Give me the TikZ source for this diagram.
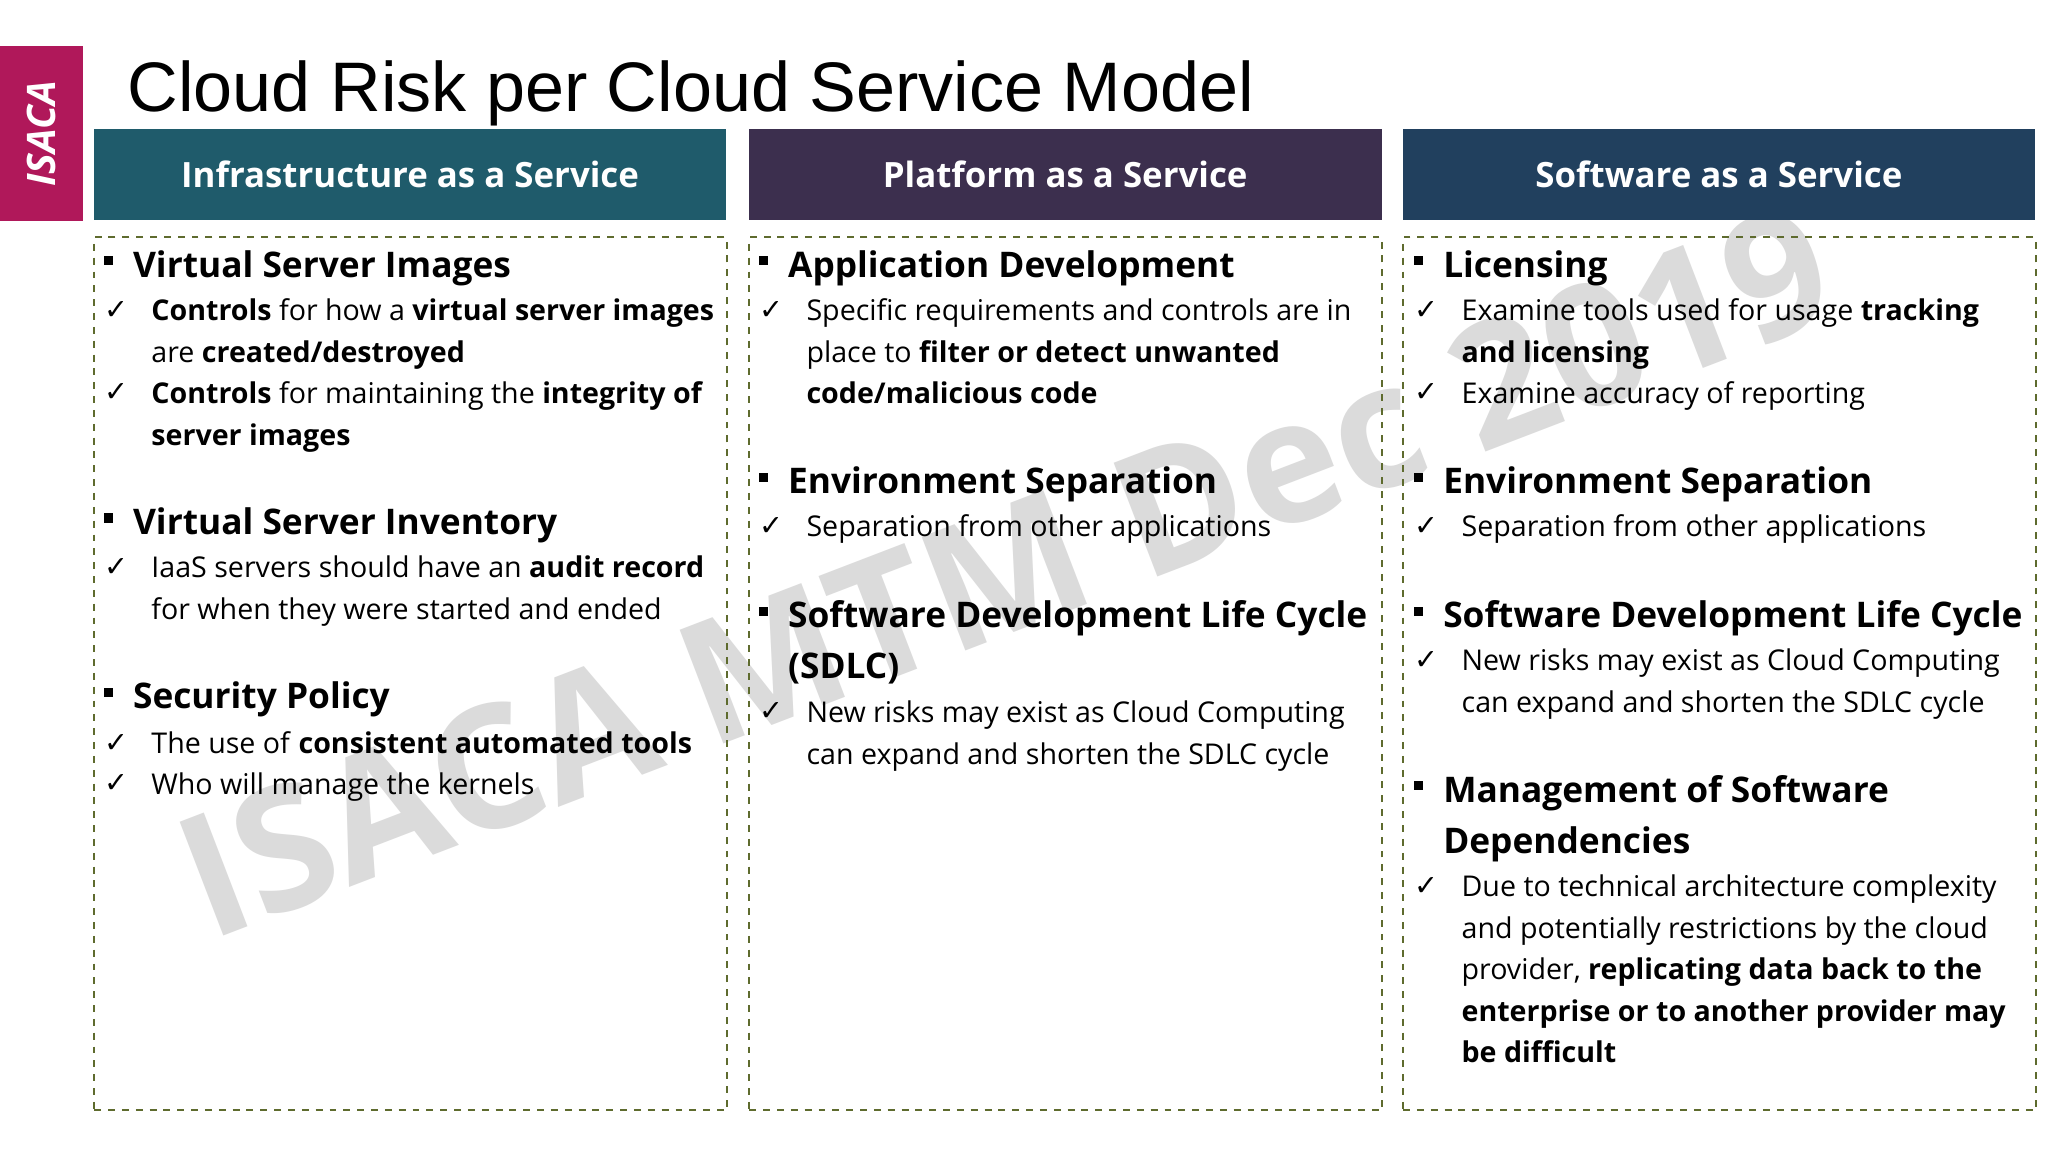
\documentclass[tikz,border=0pt]{standalone}
\usepackage{fontspec}
\setmainfont{Open Sans}
\newfontfamily\titlefont{Liberation Sans}
\newfontfamily\symfont{DejaVu Sans}
\newcounter{nn}
\definecolor{iaas}{HTML}{1F5B6B}
\definecolor{paas}{HTML}{3C2F4E}
\definecolor{saas}{HTML}{21405E}
\definecolor{isaca}{HTML}{B0185A}
\definecolor{dashc}{HTML}{5E6B2E}
\tikzset{
 hdr/.style={fill=#1,minimum width=482*0.02cm,minimum height=69*0.02cm,anchor=north west,inner sep=0,text=white,font=\fontsize{15.1}{18}\selectfont\bfseries},
 panel/.style={draw=dashc,dashed,line width=0.9pt,minimum width=482*0.02cm,minimum height=665*0.02cm,anchor=north west,inner sep=0},
 hd/.style={anchor=base west,inner sep=0,font=\fontsize{15.3}{18}\selectfont\bfseries},
 bd/.style={anchor=base west,inner sep=0,font=\fontsize{12.4}{15}\selectfont},
}
\newcommand\myH[3]{\stepcounter{nn}\node[hd] (t\arabic{nn}) at (#1+19,#2+10) {#3};\fill (#1-3,#2-6) rectangle (#1+4,#2+1);}
\newcommand\myHL[3]{\stepcounter{nn}\node[hd] (t\arabic{nn}) at (#1+19,#2+10) {#3};}
\newcommand\myC[3]{\stepcounter{nn}\node[bd] (t\arabic{nn}) at (#1+33,#2+8) {#3};\node[bd] (c\arabic{nn}) at (#1-3,#2+7) {\symfont ✓};}
\newcommand\myL[3]{\stepcounter{nn}\node[bd] (t\arabic{nn}) at (#1+33,#2+8) {#3};}
\begin{document}
\begin{tikzpicture}[x=0.02cm,y=-0.02cm]
\useasboundingbox (0,0) rectangle (1560,877);
\fill[white] (0,0) rectangle (1560,877);
% watermark
\node[text=gray!40,opacity=0.7,rotate=21,font=\fontsize{74}{80}\selectfont\bfseries] (wm) at (765,435) {ISACA MTM Dec 2019};
% logo
\node[fill=isaca,minimum width=63*0.02cm,minimum height=133*0.02cm,anchor=north west,inner sep=0] (logo) at (0,35) {};
\node[text=white,rotate=90,font=\fontsize{17}{18}\selectfont\bfseries\itshape] (logot) at (logo.center) {ISACA};
\node[anchor=base west,inner sep=0,font=\titlefont\fontsize{30.4}{36}\selectfont] (title) at (97,85) {Cloud Risk per Cloud Service Model};
% headers
\node[hdr=iaas] (h1) at (71,98) {Infrastructure as a Service};
\node[hdr=paas] (h2) at (570,98) {Platform as a Service};
\node[hdr=saas] (h3) at (1068,98) {Software as a Service};
\node[panel] (p1) at (71,180) {};
\node[panel] (p2) at (570,180) {};
\node[panel] (p3) at (1068,180) {};
% column 1
\def\x{82}
\myH{\x}{201}{Virtual Server Images}
\myC{\x}{236}{\textbf{Controls} for how a \textbf{virtual server images}}
\myL{\x}{268}{are \textbf{created/destroyed}}
\myC{\x}{299}{\textbf{Controls} for maintaining the \textbf{integrity of}}
\myL{\x}{331}{\textbf{server images}}
\myH{\x}{397}{Virtual Server Inventory}
\myC{\x}{432}{IaaS servers should have an \textbf{audit record}}
\myL{\x}{464}{for when they were started and ended}
\myH{\x}{530}{Security Policy}
\myC{\x}{566}{The use of \textbf{consistent automated tools}}
\myC{\x}{597}{Who will manage the kernels}
% column 2
\def\x{581}
\myH{\x}{201}{Application Development}
\myC{\x}{236}{Specific requirements and controls are in}
\myL{\x}{268}{place to \textbf{filter or detect unwanted}}
\myL{\x}{299}{\textbf{code/malicious code}}
\myH{\x}{366}{Environment Separation}
\myC{\x}{401}{Separation from other applications}
\myH{\x}{468}{Software Development Life Cycle}
\myHL{\x}{507}{(SDLC)}
\myC{\x}{542}{New risks may exist as Cloud Computing}
\myL{\x}{574}{can expand and shorten the SDLC cycle}
% column 3
\def\x{1080}
\myH{\x}{201}{Licensing}
\myC{\x}{236}{Examine tools used for usage \textbf{tracking}}
\myL{\x}{268}{\textbf{and licensing}}
\myC{\x}{299}{Examine accuracy of reporting}
\myH{\x}{366}{Environment Separation}
\myC{\x}{401}{Separation from other applications}
\myH{\x}{468}{Software Development Life Cycle}
\myC{\x}{503}{New risks may exist as Cloud Computing}
\myL{\x}{535}{can expand and shorten the SDLC cycle}
\myH{\x}{601}{Management of Software}
\myHL{\x}{640}{Dependencies}
\myC{\x}{675}{Due to technical architecture complexity}
\myL{\x}{707}{and potentially restrictions by the cloud}
\myL{\x}{738}{provider, \textbf{replicating data back to the}}
\myL{\x}{770}{\textbf{enterprise or to another provider may}}
\myL{\x}{801}{\textbf{be difficult}}
\end{tikzpicture}
\end{document}
